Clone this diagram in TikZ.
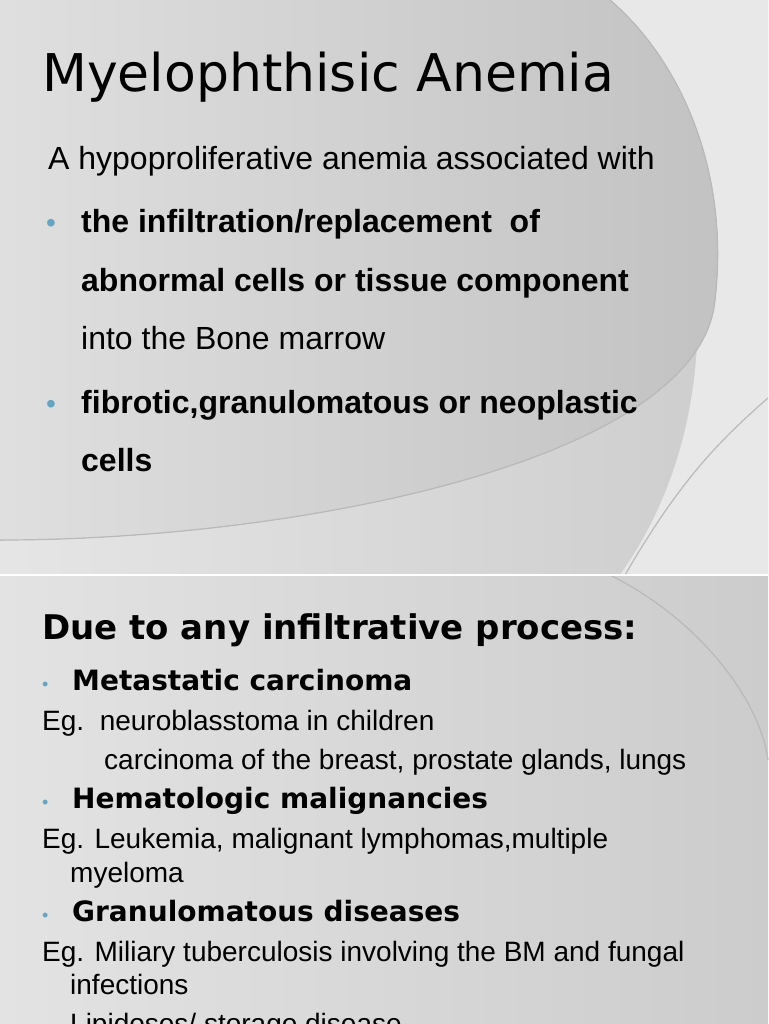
\documentclass[tikz,border=0pt]{standalone}
\usepackage{fontspec}
\setmainfont{Liberation Sans}
\newfontfamily\headfont{DejaVu Sans}
\begin{document}
\begin{tikzpicture}[x=1pt,y=-1pt,
    txt/.style={anchor=base west,inner sep=0pt,font=\fontsize{32}{34}\selectfont},
    btxt/.style={txt,font=\fontsize{32}{34}\selectfont\bfseries},
    ltxt/.style={anchor=base west,inner sep=0pt,font=\fontsize{28}{30}\selectfont},
    hlead/.style={anchor=base west,inner sep=0pt,font=\headfont\fontsize{28}{30}\selectfont\bfseries},
    dotb/.style={anchor=base west,inner sep=0pt,text=cyan!50!gray,font=\fontsize{28}{30}\selectfont},
    arcline/.style={draw=gray!55,line width=1.2pt}]
    \useasboundingbox (0,0) rectangle (768,1024);
    % top slide
    \fill[left color=gray!20,right color=gray!40] (0,0) rectangle (768,575);
    \fill[gray!18] (610,0) .. controls (720,200) and (730,420) .. (620,575) -- (768,575) -- (768,0) -- cycle;
    \fill[left color=gray!25,right color=gray!48] (0,540) .. controls (300,540) and (700,460) .. (715,300)
        .. controls (730,170) and (680,60) .. (610,0) -- (0,0) -- cycle;
    \draw[arcline] (0,540) .. controls (300,540) and (700,460) .. (715,300) .. controls (730,170) and (680,60) .. (610,0);
    \draw[arcline] (625,575) .. controls (680,480) and (720,440) .. (768,398);
    % bottom slide
    \fill[left color=gray!22,right color=gray!40] (0,575) rectangle (768,1024);
    \draw[arcline] (610,575) .. controls (700,620) and (760,700) .. (768,760);
    \draw[white,line width=2pt] (0,575) -- (768,575);
    % texts top
    \node[anchor=base west,inner sep=0pt,font=\headfont\fontsize{52}{55}\selectfont] (title) at (42,92) {Myelophthisic Anemia};
    \node[txt] (intro) at (48,170) {A hypoproliferative anemia associated with};
    \node[dotb] (d1) at (46,233) {•};
    \node[btxt] (b1a) at (81,233) {the infiltration/replacement\ \ of};
    \node[btxt] (b1b) at (81,291) {abnormal cells or tissue component};
    \node[txt] (b1c) at (81,349) {into the Bone marrow};
    \node[dotb] (d2) at (46,413) {•};
    \node[btxt] (b2a) at (81,413) {fibrotic,granulomatous or neoplastic};
    \node[btxt] (b2b) at (81,471) {cells};
    % texts bottom
    \node[anchor=base west,inner sep=0pt,font=\headfont\fontsize{34}{36}\selectfont\bfseries] (due) at (42,639) {Due to any infiltrative process:};
    \node[dotb,font=\fontsize{18}{20}\selectfont] (e1) at (42,690) {•};
    \node[hlead] (h1) at (72,690) {Metastatic carcinoma};
    \node[ltxt] (l1) at (42,730) {Eg.\ \ neuroblasstoma in children};
    \node[ltxt] (l2) at (104,769) {carcinoma of the breast, prostate glands, lungs};
    \node[dotb,font=\fontsize{18}{20}\selectfont] (e2) at (42,808) {•};
    \node[hlead] (h2) at (72,808) {Hematologic malignancies};
    \node[ltxt] (l3) at (42,848) {Eg. Leukemia, malignant lymphomas,multiple};
    \node[ltxt] (l4) at (70,882) {myeloma};
    \node[dotb,font=\fontsize{18}{20}\selectfont] (e3) at (42,921) {•};
    \node[hlead] (h3) at (72,921) {Granulomatous diseases};
    \node[ltxt] (l5) at (42,961) {Eg. Miliary tuberculosis involving the BM and fungal};
    \node[ltxt] (l6) at (70,994) {infections};
    \node[dotb,font=\fontsize{18}{20}\selectfont] (e4) at (42,1033) {•};
    \node[ltxt] (l7) at (70,1033) {Lipidoses/ storage disease};
\end{tikzpicture}
\end{document}
